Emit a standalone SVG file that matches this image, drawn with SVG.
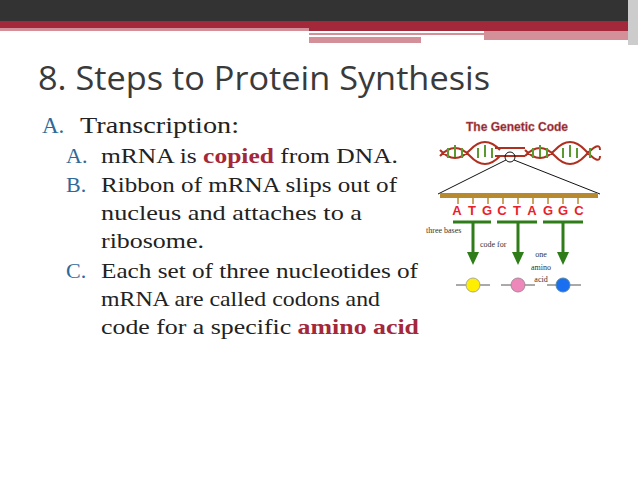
<svg xmlns="http://www.w3.org/2000/svg" width="638" height="478" viewBox="0 0 638 478">
<style>
.t{font-family:"Liberation Serif",serif;font-size:22px;fill:#222}
.n{fill:#2e6a99}
.s{font-family:"Liberation Serif",serif;font-size:8px;fill:#333}
.l{font-family:"Liberation Sans",sans-serif;font-weight:bold;font-size:13px;fill:#e8222a}
.g{stroke:#2f7d18;stroke-width:3}
.h{fill:#2f7d18}
</style>
<g id="header">
<rect x="0" y="0" width="638" height="21" fill="#333"/>
<rect x="0" y="21" width="628" height="7" fill="#a3283a"/>
<rect x="0" y="28" width="309" height="3" fill="#d49098"/>
<rect x="309" y="28" width="319" height="3" fill="#a3283a"/>
<rect x="309" y="33" width="175" height="2" fill="#d49098"/>
<rect x="484" y="31" width="144" height="9" fill="#d49098"/>
<rect x="309" y="37" width="112" height="6" fill="#d49098"/>
<rect x="628" y="0" width="10" height="45" fill="#ccc"/>
</g>
<g id="title"><text x="38" y="90" font-family="Open Sans,sans-serif" font-size="32" fill="#3a3a3a" textLength="452" lengthAdjust="spacingAndGlyphs">8. Steps to Protein Synthesis</text></g>
<g id="bullets">
<text x="42" y="133" class="t" style="font-size:23px"><tspan class="n">A.</tspan></text><text x="80" y="133" class="t" style="font-size:23px" textLength="159" lengthAdjust="spacingAndGlyphs">Transcription:</text>
<text x="66" y="163" class="t"><tspan class="n">A.</tspan></text><text x="101" y="163" class="t" textLength="297" lengthAdjust="spacingAndGlyphs">mRNA is <tspan font-weight="bold" fill="#a3283a">copied</tspan> from DNA.</text>
<text x="66" y="192" class="t"><tspan class="n">B.</tspan></text><text x="101" y="192" class="t" textLength="296" lengthAdjust="spacingAndGlyphs">Ribbon of mRNA slips out of</text>
<text x="101" y="220" class="t" textLength="261" lengthAdjust="spacingAndGlyphs">nucleus and attaches to a</text>
<text x="101" y="248" class="t" textLength="103" lengthAdjust="spacingAndGlyphs">ribosome.</text>
<text x="66" y="278" class="t"><tspan class="n">C.</tspan></text><text x="101" y="278" class="t" textLength="317" lengthAdjust="spacingAndGlyphs">Each set of three nucleotides of</text>
<text x="101" y="306" class="t" textLength="279" lengthAdjust="spacingAndGlyphs">mRNA are called codons and</text>
<text x="101" y="334" class="t" textLength="318" lengthAdjust="spacingAndGlyphs">code for a specific <tspan font-weight="bold" fill="#a3283a">amino acid</tspan></text>
</g>
<g id="genetic-code">
<text x="517" y="131" text-anchor="middle" font-family="Liberation Sans,sans-serif" font-weight="bold" font-size="12" fill="#8a1c2a" stroke="#c07070" stroke-width="0.4">The Genetic Code</text>
<path d="M440,156 Q455,140 470,156 T500,156 M440,150 Q455,166 470,150 T500,150 M525,156 Q540,140 555,156 T585,156 T600,150 M525,150 Q540,166 555,150 T585,150 T600,156" fill="none" stroke="#b03020" stroke-width="2"/>
<path d="M448,148v10M455,145v12M462,148v10M478,148v10M485,145v12M492,148v10M533,148v10M540,145v12M547,148v10M563,148v10M570,145v12M577,148v10M590,148v10" stroke="#5a9a30" stroke-width="2"/>
<path d="M495,148 L525,148 M495,156 L525,156" stroke="#b03020" stroke-width="2"/>
<circle cx="510" cy="157" r="5" fill="none" stroke="#111" stroke-width="1"/>
<path d="M506,160 L438,194 M514,160 L600,194" stroke="#111" stroke-width="1"/>
<rect x="440" y="193" width="158" height="5" fill="#b88a30"/>
<path d="M458,198v6M473,198v6M488,198v6M503,198v6M518,198v6M533,198v6M548,198v6M563,198v6M578,198v6" stroke="#b88a30" stroke-width="1.5"/>
<text x="457" y="215" class="l" text-anchor="middle">A</text><text x="472" y="215" class="l" text-anchor="middle">T</text><text x="487" y="215" class="l" text-anchor="middle">G</text><text x="502" y="215" class="l" text-anchor="middle">C</text><text x="517" y="215" class="l" text-anchor="middle">T</text><text x="532" y="215" class="l" text-anchor="middle">A</text><text x="548" y="215" class="l" text-anchor="middle">G</text><text x="563" y="215" class="l" text-anchor="middle">G</text><text x="579" y="215" class="l" text-anchor="middle">C</text>
<g id="connectors">
<path d="M453,222h38M497,222h40M543,222h40" class="g"/>
<path d="M473,222V254M518,222V254M563,222V254" class="g"/>
<polygon class="h" points="467,252 479,252 473,265"/>
<polygon class="h" points="512,252 524,252 518,265"/>
<polygon class="h" points="557,252 569,252 563,265"/>
</g>
<text x="426" y="233" class="s">three bases</text>
<text x="480" y="247" class="s">code for</text>
<text x="541" y="257" class="s" text-anchor="middle">one</text>
<text x="541" y="270" class="s" text-anchor="middle">amino</text>
<text x="541" y="282" class="s" text-anchor="middle">acid</text>
<path d="M456,285h34M501,285h34M547,285h34" stroke="#555" stroke-width="1"/>
<circle cx="473" cy="285" r="7" fill="#ffee00" stroke="#aa9"/>
<circle cx="518" cy="285" r="7" fill="#ee88bb" stroke="#a89"/>
<circle cx="563" cy="285" r="7" fill="#1a6ef0" stroke="#58a"/>
</g>
</svg>
